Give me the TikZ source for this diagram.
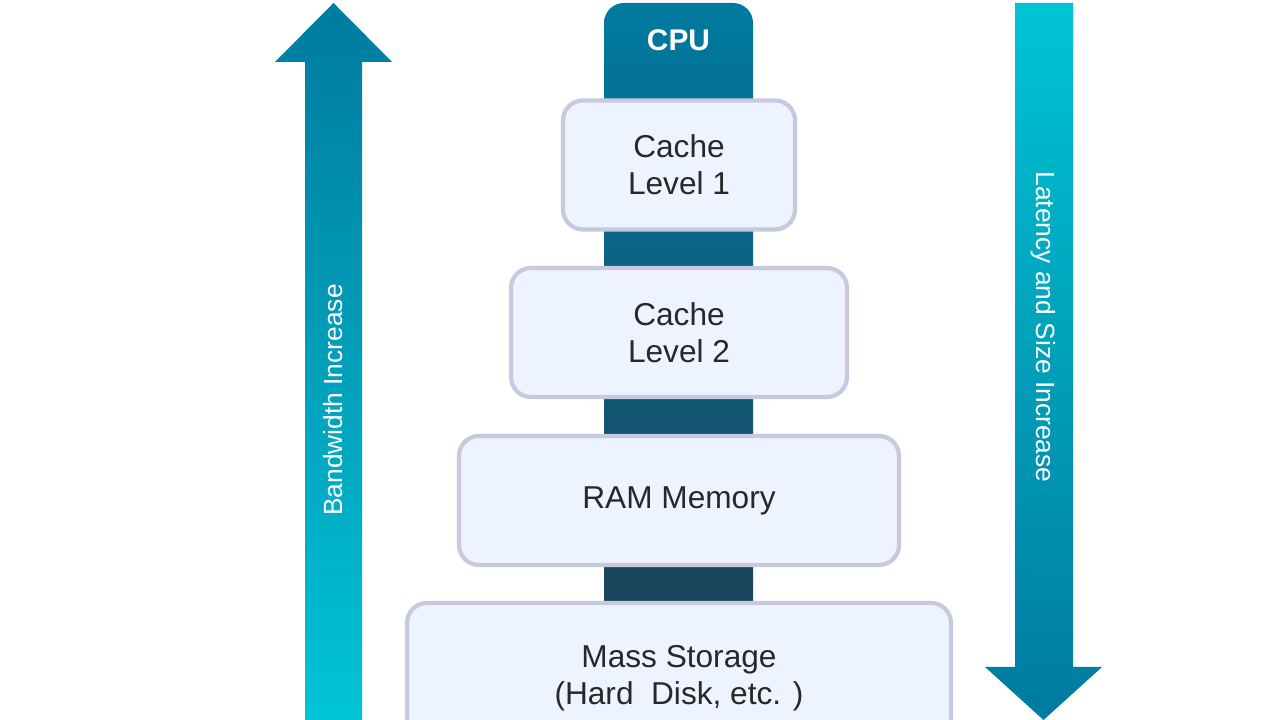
\documentclass[tikz,border=0pt]{standalone}
\usepackage{fontspec}
\setmainfont{Liberation Sans}
\usetikzlibrary{positioning}
\begin{document}
\begin{tikzpicture}[x=1cm,y=1cm]
	\definecolor{tealdark}{RGB}{0,122,160}
	\definecolor{tealcyan}{RGB}{0,196,212}
	\definecolor{cpudark}{RGB}{28,66,88}
	\definecolor{boxfill}{RGB}{238,244,255}
	\definecolor{boxline}{RGB}{200,200,222}
	\definecolor{textgray}{RGB}{40,40,40}
	\tikzstyle{level}=[rectangle, rounded corners=0.2cm, draw=boxline, line width=1.2pt, fill=boxfill, text=textgray, align=center, font=\fontsize{9}{10.5}\selectfont, minimum height=1.29cm]
	\tikzstyle{arrowlabel}=[text=white, font=\fontsize{7.5}{9}\selectfont]
	\useasboundingbox (0,0) rectangle (12.8,7.2);
	\clip (0,0) rectangle (12.8,7.2);
	\fill[white] (0,0) rectangle (12.8,7.2);
	
	% Bandwidth arrow (up)
	\shade[top color=tealdark, bottom color=tealcyan] (3.05,0) -- (3.05,6.58) -- (2.75,6.58) -- (3.335,7.17) -- (3.92,6.58) -- (3.62,6.58) -- (3.62,0) -- cycle;
	\node[arrowlabel, rotate=90] (bw) at (3.335,3.2) {Bandwidth Increase};
	% Latency arrow (down)
	\shade[top color=tealcyan, bottom color=tealdark] (10.15,7.17) -- (10.15,0.53) -- (9.85,0.53) -- (10.435,0) -- (11.02,0.53) -- (10.73,0.53) -- (10.73,7.17) -- cycle;
	\node[arrowlabel, rotate=-90] (lat) at (10.435,3.93) {Latency and Size Increase};
	
	% CPU column
	\shade[top color=tealdark, bottom color=cpudark, rounded corners=0.2cm] (6.04,0.9) -- (6.04,7.17) -- (7.53,7.17) -- (7.53,0.9) -- cycle;
	\node[text=white, font=\fontsize{8.5}{10}\bfseries] (cpu) at (6.785,6.8) {CPU};
	
	% Memory levels
	\node[level, minimum width=2.32cm] (L1) at (6.79,5.55) {Cache\\Level 1};
	\node[level, minimum width=3.36cm] (L2) at (6.79,3.875) {Cache\\Level 2};
	\node[level, minimum width=4.40cm] (RAM) at (6.79,2.195) {RAM Memory};
	\node[level, minimum width=5.44cm, minimum height=1.5cm] (MS) at (6.79,0.42) {Mass Storage\\(Hard~~Disk, etc. )};
\end{tikzpicture}
\end{document}
